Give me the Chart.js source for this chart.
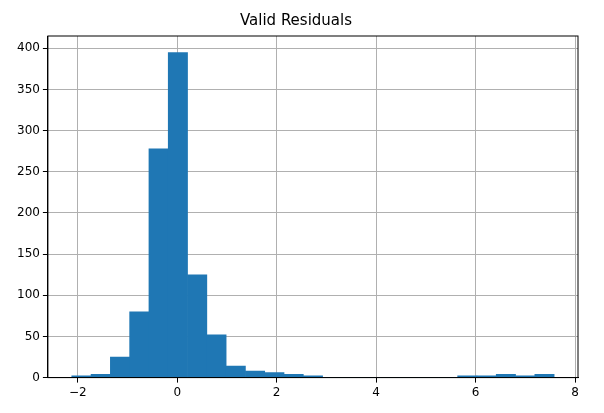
<!DOCTYPE html>
<html>
<head>
<script src="https://cdn.jsdelivr.net/npm/chart.js@4"></script>
<style>body{margin:0;background:#fff}#wrap{width:604px;height:413px}</style>
</head>
<body>
<div id="wrap"><canvas id="myChart"></canvas></div>
<script>
const binStart = -2.12;
const binWidth = 0.388;
const counts = [2, 4, 25, 80, 278, 395, 125, 52, 14, 8, 6, 4, 2, 0, 0, 0, 0, 0, 0, 0, 2, 2, 4, 2, 4];
const xTicks = [-2, 0, 2, 4, 6, 8];
const yTicks = [0, 50, 100, 150, 200, 250, 300, 350, 400];

const points = counts.map((c, i) => ({ x: binStart + binWidth * (i + 0.5), y: c }));

new Chart(document.getElementById('myChart').getContext('2d'), {
    type: 'bar',
    data: {
        datasets: [{
            data: points,
            backgroundColor: '#1f77b4',
            borderWidth: 0,
            barPercentage: 1,
            categoryPercentage: 1
        }]
    },
    options: {
        responsive: true,
        maintainAspectRatio: false,
        animation: false,
        layout: { padding: { left: 14, right: 26, top: 0, bottom: 10 } },
        plugins: {
            legend: { display: false },
            tooltip: { enabled: false },
            title: {
                display: true,
                text: 'Valid Residuals',
                color: '#000',
                font: { family: 'DejaVu Sans', size: 15, weight: 'normal' },
                padding: { top: 12, bottom: 6 }
            }
        },
        scales: {
            x: {
                type: 'linear',
                offset: false,
                min: -2.6,
                max: 8.06,
                afterBuildTicks: s => { s.ticks = xTicks.map(v => ({ value: v })); },
                ticks: {
                    color: '#000',
                    font: { family: 'DejaVu Sans', size: 12 },
                    callback: v => String(v).replace('-', '\u2212')
                },
                grid: { offset: false, color: '#b0b0b0', tickColor: '#000', tickLength: 5 },
                border: { color: '#000' }
            },
            y: {
                min: 0,
                max: 415,
                afterBuildTicks: s => { s.ticks = yTicks.map(v => ({ value: v })); },
                ticks: { color: '#000', font: { family: 'DejaVu Sans', size: 12 } },
                grid: { color: '#b0b0b0', tickColor: '#000', tickLength: 5 },
                border: { color: '#000' }
            }
        }
    },
    plugins: [{
        id: 'frame',
        afterDraw(chart) {
            const { ctx, chartArea: a } = chart;
            ctx.save();
            ctx.strokeStyle = '#000';
            ctx.lineWidth = 1;
            ctx.strokeRect(a.left, a.top, a.right - a.left, a.bottom - a.top);
            ctx.restore();
        }
    }]
});
</script>
</body>
</html>
